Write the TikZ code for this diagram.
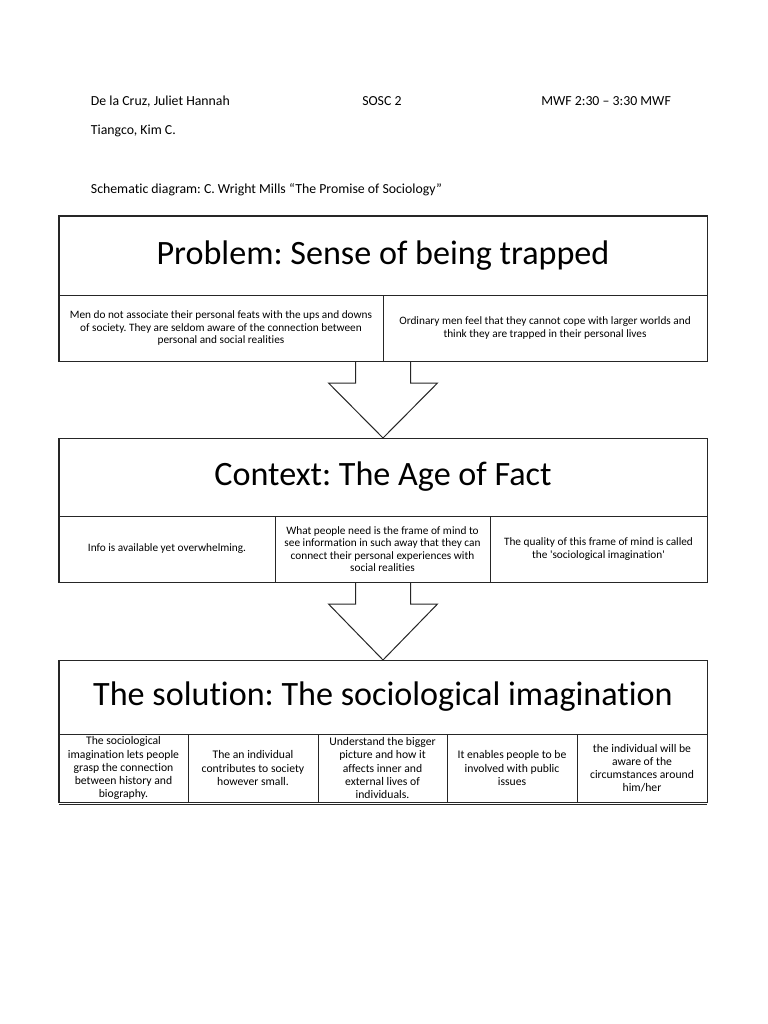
\documentclass[tikz,border=0pt]{standalone}
\usepackage{fontspec}
\setmainfont{Carlito}[Ligatures={TeX,NoCommon}]
\usetikzlibrary{calc}
\newcommand{\pxu}{0.796875pt}
\frenchspacing
\begin{document}
\begin{tikzpicture}[x=0.796875pt,y=-0.796875pt,
  box/.style={draw=black!85, line width=0.8pt, rectangle, inner sep=0pt, outer sep=0pt, align=center},
  titlebox/.style={box, font=\fontsize{27.2}{33}\selectfont, text height=20.4pt, text depth=6.8pt},
  cellA/.style={box, font=\fontsize{9}{10}\selectfont},
  cellB/.style={box, font=\fontsize{9.3}{10.4}\selectfont},
  hdr/.style={anchor=base west, inner sep=0pt, font=\fontsize{11}{13}\selectfont},
  blockarrow/.style={draw=black!85, line width=0.8pt, line join=miter}
]
\useasboundingbox (0,0) rectangle (768,1024);
\fill[white] (0,0) rectangle (768,1024);

% header
\node[hdr] (n1) at (90.7,105.7) {De la Cruz, Juliet Hannah};
\node[hdr] (n2) at (362,105.7) {SOSC 2};
\node[hdr] (n3) at (541,105.7) {MWF 2:30 – 3:30 MWF};
\node[hdr] (n4) at (90.7,134) {Tiangco, Kim C.};
\node[hdr] (n5) at (90.7,193) {Schematic diagram: C. Wright Mills “The Promise of Sociology”};

% box 1
\node[titlebox, minimum width=648*\pxu, minimum height=79*\pxu] (pt) at (383,255.5) {Problem: Sense of being trapped};
\node[cellA, minimum width=324*\pxu, minimum height=66*\pxu] (p1) at (221,328) {Men do not associate their personal feats with the ups and downs\\of society. They are seldom aware of the connection between\\personal and social realities};
\node[cellA, minimum width=324*\pxu, minimum height=66*\pxu] (p2) at (545,328) {Ordinary men feel that they cannot cope with larger worlds and\\think they are trapped in their personal lives};

% box 2
\node[titlebox, minimum width=648*\pxu, minimum height=78*\pxu] (ct) at (383,477) {Context: The Age of Fact};
\node[cellA, minimum width=216*\pxu, minimum height=66*\pxu] (c1) at (167,549) {Info is available yet overwhelming.};
\node[cellA, minimum width=215*\pxu, minimum height=66*\pxu] (c2) at (382.5,549) {What people need is the frame of mind to\\see information in such away that they can\\connect their personal experiences with\\social realities};
\node[cellA, minimum width=217*\pxu, minimum height=66*\pxu] (c3) at (598.5,549) {The quality of this frame of mind is called\\the \textquotesingle sociological imagination\textquotesingle};

% box 3
\node[titlebox, minimum width=648*\pxu, minimum height=74*\pxu] (st) at (383,697) {The solution: The sociological imagination};
\node[cellB, minimum width=129*\pxu, minimum height=68*\pxu] (s1) at (123.5,768) {The sociological\\imagination lets people\\grasp the connection\\between history and\\biography.};
\node[cellB, minimum width=130*\pxu, minimum height=68*\pxu] (s2) at (253,768) {The an individual\\contributes to society\\however small.};
\node[cellB, minimum width=129*\pxu, minimum height=68*\pxu] (s3) at (382.5,768) {Understand the bigger\\picture and how it\\affects inner and\\external lives of\\individuals.};
\node[cellB, minimum width=130*\pxu, minimum height=68*\pxu] (s4) at (512,768) {It enables people to be\\involved with public\\issues};
\node[cellB, minimum width=130*\pxu, minimum height=68*\pxu] (s5) at (642,768) {the individual will be\\aware of the\\circumstances around\\him/her};
\draw[draw=black!85, line width=0.8pt] ($(s1.south west)+(0,2.5)$) -- ($(s5.south east)+(0,2.5)$);

% arrows
\coordinate (a1) at (pt.south |- p1.south);
\draw[blockarrow] ($(a1)+(-27.5,0)$) -- ++(0,22) -- ++(-27,0) -- (ct.north) -- ($(a1)+(54.5,22)$) -- ++(-27,0) -- ($(a1)+(27.5,0)$);
\coordinate (a2) at (ct.south |- c1.south);
\draw[blockarrow] ($(a2)+(-27.5,0)$) -- ++(0,22) -- ++(-27,0) -- (st.north) -- ($(a2)+(54.5,22)$) -- ++(-27,0) -- ($(a2)+(27.5,0)$);
\end{tikzpicture}
\end{document}
